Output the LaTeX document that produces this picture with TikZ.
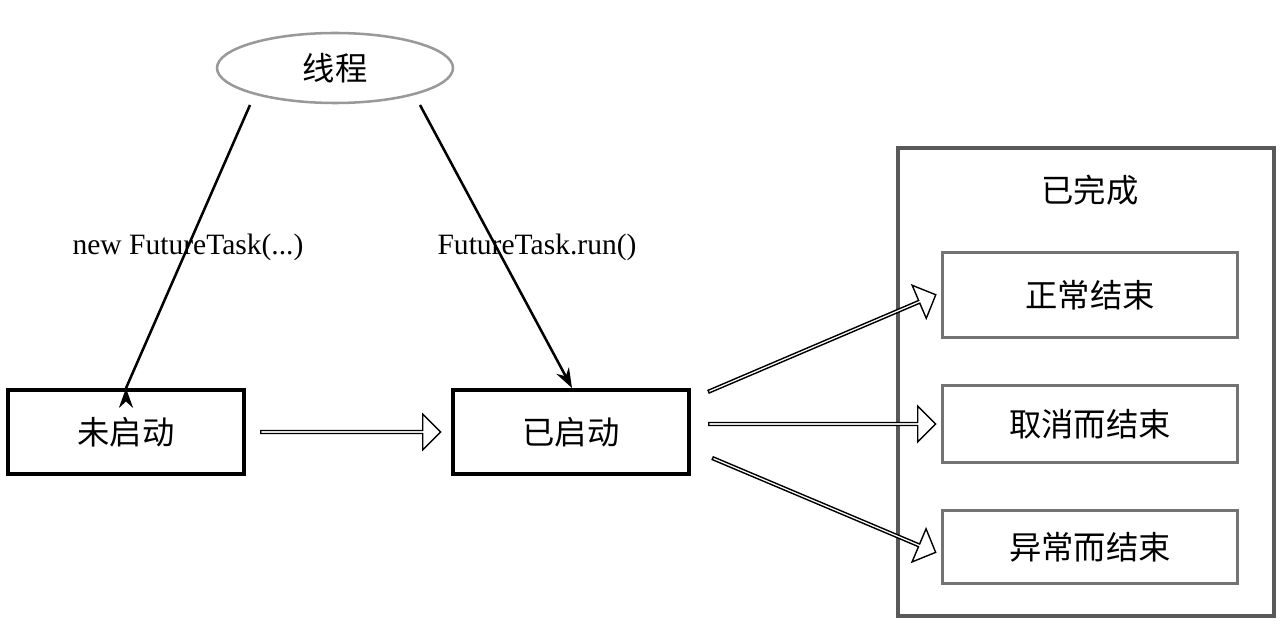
\documentclass[tikz,border=0pt]{standalone}
\usepackage{fontspec}
\setmainfont{Liberation Serif}
\newfontfamily\cjk{Noto Sans CJK SC}
\usetikzlibrary{shapes.geometric,shapes.arrows,arrows.meta}
\begin{document}
\begin{tikzpicture}[x=0.025cm,y=-0.025cm,
  cn/.style={font=\cjk\fontsize{23}{26}\selectfont},
  bbox/.style={draw=black,line width=2.6pt,minimum width=236*0.025cm,minimum height=84*0.025cm,cn},
  gbox/.style={draw=black!55,line width=2.4pt,minimum width=295*0.025cm,cn},
  hol/.style={single arrow,draw=black,line width=1pt,fill=white,minimum width=36*0.025cm,single arrow head extend=8*0.025cm,inner sep=0pt,single arrow head indent=0pt},
  lab/.style={font=\fontsize{21}{24}\selectfont},
  arr/.style={line width=1.8pt,-{Stealth[length=14pt,width=10pt]}}]
\useasboundingbox (0,0) rectangle (1280,628);
\node[ellipse,draw=black!40,line width=1.8pt,minimum width=236*0.025cm,minimum height=70*0.025cm,cn] (t) at (335,68) {线程};
\node[bbox] (a) at (126,432) {未启动};
\node[bbox] (b) at (571,432) {已启动};
\draw[draw=black!65,line width=2.4pt] (898,148) rectangle (1274,616);
\node[cn] (d) at (1090,190) {已完成};
\node[gbox,minimum height=85*0.025cm] (n1) at (1090,295) {正常结束};
\node[gbox,minimum height=77*0.025cm] (n2) at (1090,424) {取消而结束};
\node[gbox,minimum height=73*0.025cm] (n3) at (1090,547) {异常而结束};
\coordinate (s1) at (250,105); \coordinate (s2) at (420,105);
\draw[arr] (s1) -- (a.north) ++(0,0);
\draw[arr] (s2) -- (572,388);
\node[lab] (l1) at (188,247) {new FutureTask(...)};
\node[lab] (l2) at (537,247) {FutureTask.run()};
\node[hol,minimum height=180*0.025cm] (h1) at (350,432) {};
\node[hol,minimum height=247*0.025cm,rotate=23.1] (h2) at (821.5,343.5) {};
\node[hol,minimum height=227*0.025cm] (h3) at (821.5,424) {};
\node[hol,minimum height=242*0.025cm,rotate=-22.9] (h4) at (823.5,505) {};
\end{tikzpicture}
\end{document}
